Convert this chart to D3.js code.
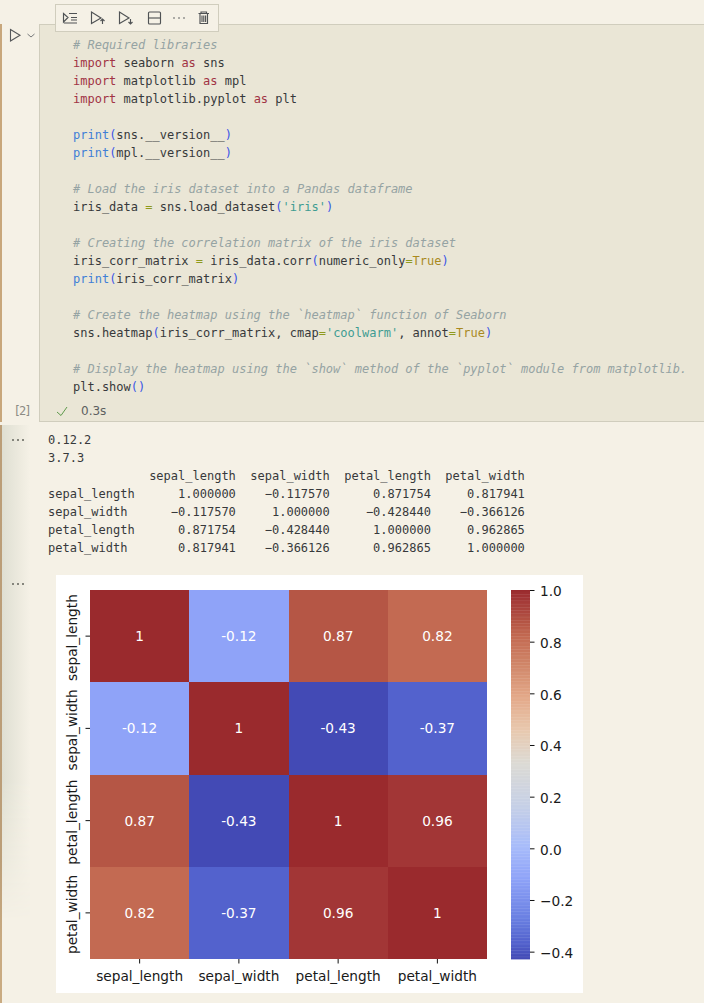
<!DOCTYPE html>
<html><head><meta charset="utf-8">
<script src="https://cdn.jsdelivr.net/npm/d3@7"></script>
<style>
html,body{margin:0;padding:0;background:#f5f1e6;overflow:hidden}
svg{display:block}
.mono{font-family:"DejaVu Sans Mono",monospace;font-size:12px}
.sans{font-family:"DejaVu Sans",sans-serif}
</style></head><body>
<svg id="s" width="704" height="1003"></svg>
<script>
// ---- chart data ----
const variables = ["sepal_length","sepal_width","petal_length","petal_width"];
const rowSepalLength = [1.000000,-0.117570,0.871754,0.817941];
const rowSepalWidth  = [-0.117570,1.000000,-0.428440,-0.366126];
const rowPetalLength = [0.871754,-0.428440,1.000000,0.962865];
const rowPetalWidth  = [0.817941,-0.366126,0.962865,1.000000];
const correlationRows = [rowSepalLength,rowSepalWidth,rowPetalLength,rowPetalWidth];
const colorbarTicks = [1.0,0.8,0.6,0.4,0.2,0.0,-0.2,-0.4];
const colorPositions = [0,0.041,0.11,0.2178,0.306,0.415,0.53,0.62,0.71,0.80,0.873,0.91,0.974,1];
const colorStops = ["#434ab5","#5261cc","#6a80e2","#8fa3f8","#a8bcfa","#c6d0e6","#dcdad4","#e8c8ae","#e3a888","#cf8467","#c36a52","#b55645","#a23636","#9a2a2d"];

// ---- notebook text ----
const codeLines = [
 [["c","# Required libraries"]],
 [["k","import"],["d"," seaborn "],["k","as"],["d"," sns"]],
 [["k","import"],["d"," matplotlib "],["k","as"],["d"," mpl"]],
 [["k","import"],["d"," matplotlib.pyplot "],["k","as"],["d"," plt"]],
 [],
 [["f","print"],["p","("],["d","sns.__version__"],["p",")"]],
 [["f","print"],["p","("],["d","mpl.__version__"],["p",")"]],
 [],
 [["c","# Load the iris dataset into a Pandas dataframe"]],
 [["d","iris_data "],["o","="],["d"," sns.load_dataset"],["p","("],["s","'iris'"],["p",")"]],
 [],
 [["c","# Creating the correlation matrix of the iris dataset"]],
 [["d","iris_corr_matrix "],["o","="],["d"," iris_data.corr"],["p","("],["d","numeric_only"],["o","="],["t","True"],["p",")"]],
 [["f","print"],["p","("],["d","iris_corr_matrix"],["p",")"]],
 [],
 [["c","# Create the heatmap using the `heatmap` function of Seaborn"]],
 [["d","sns.heatmap"],["p","("],["d","iris_corr_matrix, cmap"],["o","="],["s","'coolwarm'"],["d",", annot"],["o","="],["t","True"],["p",")"]],
 [],
 [["c","# Display the heatmap using the `show` method of the `pyplot` module from matplotlib."]],
 [["d","plt.show"],["p","()"]]
];
const outputLines = [
 "0.12.2",
 "3.7.3",
 "              sepal_length  sepal_width  petal_length  petal_width",
 "sepal_length      1.000000    \u22120.117570      0.871754     0.817941",
 "sepal_width      \u22120.117570     1.000000     \u22120.428440    \u22120.366126",
 "petal_length      0.871754    \u22120.428440      1.000000     0.962865",
 "petal_width       0.817941    \u22120.366126      0.962865     1.000000"
];
const tokenColor = {c:"#95a3a3",k:"#a13344",d:"#37393b",f:"#3f7fd6",p:"#3a55e6",o:"#8f9a1d",s:"#3f9c92",t:"#a98a1f"};

const svg = d3.select("#s");
const defs = svg.append("defs");
const sg = defs.append("linearGradient").attr("id","shade");
sg.append("stop").attr("offset",0).attr("stop-color","#dfdfd2");
sg.append("stop").attr("offset",1).attr("stop-color","#f5f1e6");
const fg = defs.append("linearGradient").attr("id","fade").attr("x1",0).attr("x2",0).attr("y1",0).attr("y2",1);
fg.append("stop").attr("offset",.72).attr("stop-color","#fff");
fg.append("stop").attr("offset",1).attr("stop-color","#000");
defs.append("mask").attr("id","fadeMask").attr("maskUnits","userSpaceOnUse")
  .attr("x",0).attr("y",425).attr("width",40).attr("height",495)
  .append("rect").attr("x",0).attr("y",425).attr("width",40).attr("height",495).attr("fill","url(#fade)");
const bg = defs.append("linearGradient").attr("id","bar").attr("x1",0).attr("x2",0).attr("y1",0).attr("y2",1);
bg.append("stop").attr("offset",.75).attr("stop-color","#bb9e78");
bg.append("stop").attr("offset",.9).attr("stop-color","#c9ab82");

// ---- notebook chrome ----
const stroke = "#d0cdbd";
svg.append("rect").attr("x",2).attr("y",425).attr("width",28).attr("height",495)
   .attr("fill","url(#shade)").attr("mask","url(#fadeMask)");
svg.append("rect").attr("x",0).attr("y",24).attr("width",2).attr("height",398).attr("fill","#c8a77c");
svg.append("rect").attr("x",0).attr("y",425).attr("width",2).attr("height",578).attr("fill","url(#bar)");
svg.append("rect").attr("x",39.5).attr("y",24.5).attr("width",670).attr("height",397)
   .attr("fill","#eae6d6").attr("stroke",stroke);

const code = svg.append("g").attr("class","mono");
codeLines.forEach((line,i)=>{
  const t = code.append("text").attr("x",73).attr("y",49+i*18).style("white-space","pre");
  line.forEach(([k,s])=>t.append("tspan").attr("fill",tokenColor[k]).attr("font-style",k==="c"?"italic":"normal").text(s));
});
const out = svg.append("g").attr("class","mono").attr("fill","#37393b");
outputLines.forEach((s,i)=>out.append("text").attr("x",48).attr("y",444+i*18).style("white-space","pre").text(s));

svg.append("text").attr("class","mono").attr("x",13.5).attr("y",414.5).style("letter-spacing","-1.7px")
   .attr("fill","#8c8c84").text("[2]");
svg.append("text").attr("class","sans").attr("x",81).attr("y",414.5).style("font-size","12px").attr("fill","#5c5f60").text("0.3s");
svg.append("path").attr("d","M57 412 L61 415.5 L67 407").attr("fill","none").attr("stroke","#5e9a4c").attr("stroke-width",1);
[[12,439],[12,583]].forEach(([x,y])=>{ [0,5,10].forEach(d=>svg.append("rect").attr("x",x+d).attr("y",y).attr("width",2).attr("height",2).attr("fill","#85857c")); });

// run + chevron
svg.append("path").attr("d","M10.5 29.5 L10.5 41 L20 35.3 Z").attr("fill","none").attr("stroke","#55585a").attr("stroke-width",1.1);
svg.append("path").attr("d","M27.5 34 L31 37 L34.5 34").attr("fill","none").attr("stroke","#77797a").attr("stroke-width",1);

// toolbar
svg.append("rect").attr("x",55.5).attr("y",4.5).attr("width",163).attr("height",27).attr("fill","#f5f1e6").attr("stroke",stroke);
const tb = svg.append("g").attr("fill","none").attr("stroke","#505355").attr("stroke-width",1.15);
tb.append("path").attr("d","M63.5 13.5 L68 17.5 L63.5 22 Z M69 13.5 H77 M71 17.5 H77 M71 20 H77 M64 23 H77");
tb.append("path").attr("d","M91.5 12 L91.5 23.5 L101 18 Z M102.5 24 V19 M100.5 21 L102.5 19 L104.5 21");
tb.append("path").attr("d","M119.5 12 L119.5 23.5 L129 18 Z M130.5 19 V24 M128.5 22 L130.5 24 L132.5 22");
tb.append("rect").attr("x",148.5).attr("y",12).attr("width",12).attr("height",12).attr("rx",1);
tb.append("path").attr("d","M148.5 18 H160.5");
[174,179,184].forEach(x=>svg.append("circle").attr("cx",x).attr("cy",18).attr("r",.8).attr("fill","#505355"));
tb.append("path").attr("d","M198.5 13.5 H209 M201 13.5 V12 H206.5 V13.5 M200 13.5 V23.5 H207.5 V13.5 M202 15.5 V22 M203.8 15.5 V22 M205.6 15.5 V22");

// ---- figure ----
svg.append("rect").attr("x",56).attr("y",575).attr("width",527).attr("height",418).attr("fill","#fff");

const x = d3.scaleBand().domain(variables).range([90,487]);
const y = d3.scaleBand().domain(variables).range([590,959]);
const vMin = d3.min(correlationRows.flat()), vMax = d3.max(correlationRows.flat());
const color = d3.scaleLinear()
  .domain(colorPositions.map(t=>vMin+(vMax-vMin)*t))
  .range(colorStops).interpolate(d3.interpolateRgb);

const annotation = v => String(+v.toFixed(2));
const cells = variables.flatMap((r,i)=>variables.map((c,j)=>({r,c,v:correlationRows[i][j]})));
const hm = svg.append("g");
hm.selectAll("rect").data(cells).join("rect")
  .attr("x",d=>x(d.c)).attr("y",d=>y(d.r))
  .attr("width",x.bandwidth()).attr("height",y.bandwidth())
  .attr("shape-rendering","crispEdges")
  .attr("fill",d=>color(d.v));
hm.selectAll("text").data(cells).join("text").attr("class","sans")
  .attr("x",d=>x(d.c)+x.bandwidth()/2).attr("y",d=>y(d.r)+y.bandwidth()/2)
  .attr("dy","0.37em").attr("text-anchor","middle").attr("fill","#fff")
  .style("font-size","13.7px").text(d=>annotation(d.v));

function styleAxis(g){
  g.attr("font-family",null).attr("font-size",null);
  g.select(".domain").remove();
  g.selectAll("line").attr("stroke","#111");
  g.selectAll("text").attr("class","sans").attr("fill","#1a1a1a").style("font-size","13.7px");
}
svg.append("g").attr("transform","translate(0,959)")
  .call(d3.axisBottom(x).tickSize(4.5).tickPadding(8)).call(styleAxis);
svg.append("g").attr("transform","translate(90,0)")
  .call(d3.axisLeft(y).tickSize(4.5).tickPadding(4.5)).call(styleAxis)
  .selectAll("text")
  .attr("x",-13).attr("dy",null).attr("y",1.5).attr("text-anchor","middle")
  .attr("transform","rotate(-90,-13,1.5)");

// colourbar
const cbY = d3.scaleLinear().domain([vMin,vMax]).range([959,590]);
const levels = d3.range(0,256).map(i=>vMin+(vMax-vMin)*i/255);
svg.append("g").selectAll("rect").data(levels).join("rect")
  .attr("x",511).attr("width",19)
  .attr("y",d=>cbY(d)-369/256*(d===vMax?0:1)).attr("height",369/256+.4)
  .attr("fill",d=>color(d));
svg.append("g").attr("transform","translate(530,0)")
  .call(d3.axisRight(cbY).tickValues(colorbarTicks).tickFormat(d3.format(".1f")).tickSize(4.5).tickPadding(5.5))
  .call(styleAxis)
  .selectAll("text").attr("dy","0.43em");
</script>
</body></html>
